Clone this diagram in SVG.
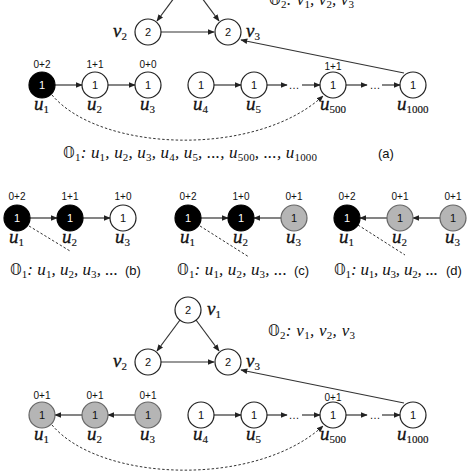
<svg xmlns="http://www.w3.org/2000/svg" width="474" height="474" viewBox="0 0 474 474">
<defs>
<marker id="ah" viewBox="0 0 10 10" refX="9" refY="5" markerWidth="7" markerHeight="7" orient="auto" markerUnits="userSpaceOnUse">
<path d="M0,1 L10,5 L0,9 z" fill="#222"/>
</marker>
</defs>
<style>
.w{fill:#fff;stroke:#222;stroke-width:1.2}
.k{fill:#000;stroke:#000;stroke-width:1.2}
.g{fill:#b5b5b5;stroke:#666;stroke-width:1.2}
.t{font-family:"Liberation Sans",Arial,sans-serif;font-size:11px;text-anchor:middle;fill:#111}
.tw{font-family:"Liberation Sans",Arial,sans-serif;font-size:11px;text-anchor:middle;fill:#fff}
.c{font-family:"Liberation Sans",Arial,sans-serif;font-size:10px;text-anchor:middle;fill:#111}
.m{font-family:"Liberation Serif","DejaVu Serif",serif;font-style:italic;font-size:17px;fill:#111}
.l{font-family:"Liberation Serif","DejaVu Serif",serif;font-style:italic;font-size:19px;fill:#111;stroke:#111;stroke-width:0.3}
.s{font-style:normal;font-size:11px;stroke-width:0.15}
.bb{font-family:"DejaVu Sans",serif;font-style:normal;font-size:15px;fill:#111}
.p{font-family:"Liberation Sans",Arial,sans-serif;font-size:13px;fill:#111}
.e{fill:none;stroke:#333;stroke-width:1.2;marker-end:url(#ah)}
.d{fill:none;stroke:#333;stroke-width:1;stroke-dasharray:2.5,2}
.da{fill:none;stroke:#333;stroke-width:1;stroke-dasharray:2.5,2;marker-end:url(#ah)}
</style>
<rect width="474" height="474" fill="#fff"/>

<g id="connectors">
<line class="e" x1="180" y1="-10" x2="157" y2="21"/>
<line class="e" x1="196" y1="-10" x2="219" y2="21"/>
<line class="e" x1="161" y1="32" x2="214" y2="32"/>
<line class="e" x1="404" y1="73" x2="241" y2="40"/>
<line class="e" x1="55" y1="85" x2="82" y2="85"/>
<line class="e" x1="108" y1="85" x2="135" y2="85"/>
<line class="e" x1="214" y1="85" x2="241" y2="85"/>
<line class="e" x1="267" y1="85" x2="287" y2="85"/>
<line class="e" x1="302" y1="85" x2="320" y2="85"/>
<line class="e" x1="346" y1="85" x2="367" y2="85"/>
<line class="e" x1="382" y1="85" x2="400" y2="85"/>
<path class="da" d="M52,95 C100,152 255,158 323,96"/>
<line class="e" x1="30" y1="218" x2="57" y2="218"/>
<line class="e" x1="83" y1="218" x2="110" y2="218"/>
<line class="d" x1="29" y1="226" x2="70" y2="251"/>
<line class="e" x1="201" y1="218" x2="228" y2="218"/>
<line class="e" x1="281" y1="218" x2="254" y2="218"/>
<line class="d" x1="200" y1="226" x2="249" y2="257"/>
<line class="e" x1="387" y1="218" x2="360" y2="218"/>
<line class="e" x1="440" y1="218" x2="413" y2="218"/>
<line class="d" x1="358" y1="225" x2="405" y2="255"/>
<line class="e" x1="180" y1="320" x2="157" y2="351"/>
<line class="e" x1="196" y1="320" x2="219" y2="351"/>
<line class="e" x1="161" y1="362" x2="214" y2="362"/>
<line class="e" x1="404" y1="403" x2="241" y2="370"/>
<line class="e" x1="82" y1="415" x2="55" y2="415"/>
<line class="e" x1="135" y1="415" x2="108" y2="415"/>
<line class="e" x1="214" y1="415" x2="241" y2="415"/>
<line class="e" x1="267" y1="415" x2="287" y2="415"/>
<line class="e" x1="302" y1="415" x2="320" y2="415"/>
<line class="e" x1="346" y1="415" x2="367" y2="415"/>
<line class="e" x1="382" y1="415" x2="400" y2="415"/>
<path class="da" d="M52,425 C100,482 255,488 323,426"/>
</g>

<g id="dots">
<text class="t" x="294" y="89">…</text>
<text class="t" x="375" y="89">…</text>
<text class="t" x="294" y="419">…</text>
<text class="t" x="375" y="419">…</text>
</g>

<g id="a-text">
<text class="m" x="269" y="5" textLength="85" lengthAdjust="spacing"><tspan class="bb">𝕆</tspan><tspan class="s" dy="3">2</tspan><tspan dy="-3">: v</tspan><tspan class="s" dy="3">1</tspan><tspan dy="-3">, v</tspan><tspan class="s" dy="3">2</tspan><tspan dy="-3">, v</tspan><tspan class="s" dy="3">3</tspan></text>
</g>
<g id="a-v2"><circle class="w" cx="148" cy="32" r="13"/><text class="t" x="148" y="36">2</text><text class="l" x="113" y="37">v<tspan class="s" dy="3">2</tspan></text></g>
<g id="a-v3"><circle class="w" cx="228" cy="32" r="13"/><text class="t" x="228" y="36">2</text><text class="l" x="246" y="37">v<tspan class="s" dy="3">3</tspan></text></g>
<g id="a-u1"><circle class="k" cx="42" cy="85" r="13"/><text class="tw" x="42" y="89">1</text><text class="c" x="42" y="68">0+2</text><text class="l" x="34" y="110">u<tspan class="s" dy="3">1</tspan></text></g>
<g id="a-u2"><circle class="w" cx="95" cy="85" r="13"/><text class="t" x="95" y="89">1</text><text class="c" x="95" y="68">1+1</text><text class="l" x="87" y="110">u<tspan class="s" dy="3">2</tspan></text></g>
<g id="a-u3"><circle class="w" cx="148" cy="85" r="13"/><text class="t" x="148" y="89">1</text><text class="c" x="148" y="68">0+0</text><text class="l" x="140" y="110">u<tspan class="s" dy="3">3</tspan></text></g>
<g id="a-u4"><circle class="w" cx="201" cy="85" r="13"/><text class="t" x="201" y="89">1</text><text class="l" x="193" y="110">u<tspan class="s" dy="3">4</tspan></text></g>
<g id="a-u5"><circle class="w" cx="254" cy="85" r="13"/><text class="t" x="254" y="89">1</text><text class="l" x="246" y="110">u<tspan class="s" dy="3">5</tspan></text></g>
<g id="a-u500"><circle class="w" cx="333" cy="85" r="13"/><text class="t" x="333" y="89">1</text><text class="c" x="333" y="70">1+1</text><text class="l" x="320" y="110">u<tspan class="s" dy="3">500</tspan></text></g>
<g id="a-u1000"><circle class="w" cx="413" cy="85" r="13"/><text class="t" x="413" y="89">1</text><text class="l" x="397" y="110">u<tspan class="s" dy="3">1000</tspan></text></g>
<g id="a-caption">
<text class="m" x="63" y="158" textLength="254" lengthAdjust="spacing"><tspan class="bb">𝕆</tspan><tspan class="s" dy="3">1</tspan><tspan dy="-3">: u</tspan><tspan class="s" dy="3">1</tspan><tspan dy="-3">, u</tspan><tspan class="s" dy="3">2</tspan><tspan dy="-3">, u</tspan><tspan class="s" dy="3">3</tspan><tspan dy="-3">, u</tspan><tspan class="s" dy="3">4</tspan><tspan dy="-3">, u</tspan><tspan class="s" dy="3">5</tspan><tspan dy="-3">, ..., u</tspan><tspan class="s" dy="3">500</tspan><tspan dy="-3">, ..., u</tspan><tspan class="s" dy="3">1000</tspan></text>
<text class="p" x="378" y="158">(a)</text>
</g>

<g id="b-u1"><circle class="k" cx="17" cy="218" r="13"/><text class="tw" x="17" y="222">1</text><text class="c" x="17" y="200">0+2</text><text class="l" x="9" y="243">u<tspan class="s" dy="3">1</tspan></text></g>
<g id="b-u2"><circle class="k" cx="70" cy="218" r="13"/><text class="tw" x="70" y="222">1</text><text class="c" x="70" y="200">1+1</text><text class="l" x="62" y="243">u<tspan class="s" dy="3">2</tspan></text></g>
<g id="b-u3"><circle class="w" cx="123" cy="218" r="13"/><text class="t" x="123" y="222">1</text><text class="c" x="123" y="200">1+0</text><text class="l" x="115" y="243">u<tspan class="s" dy="3">3</tspan></text></g>
<g id="b-caption"><text class="m" x="10" y="275" textLength="108" lengthAdjust="spacing"><tspan class="bb">𝕆</tspan><tspan class="s" dy="3">1</tspan><tspan dy="-3">: u</tspan><tspan class="s" dy="3">1</tspan><tspan dy="-3">, u</tspan><tspan class="s" dy="3">2</tspan><tspan dy="-3">, u</tspan><tspan class="s" dy="3">3</tspan><tspan dy="-3">, ...</tspan></text><text class="p" x="125" y="275">(b)</text></g>

<g id="c-u1"><circle class="k" cx="188" cy="218" r="13"/><text class="tw" x="188" y="222">1</text><text class="c" x="188" y="200">0+2</text><text class="l" x="180" y="243">u<tspan class="s" dy="3">1</tspan></text></g>
<g id="c-u2"><circle class="k" cx="241" cy="218" r="13"/><text class="tw" x="241" y="222">1</text><text class="c" x="241" y="200">1+0</text><text class="l" x="233" y="243">u<tspan class="s" dy="3">2</tspan></text></g>
<g id="c-u3"><circle class="g" cx="294" cy="218" r="13"/><text class="t" x="294" y="222">1</text><text class="c" x="294" y="200">0+1</text><text class="l" x="286" y="243">u<tspan class="s" dy="3">3</tspan></text></g>
<g id="c-caption"><text class="m" x="177" y="275" textLength="110" lengthAdjust="spacing"><tspan class="bb">𝕆</tspan><tspan class="s" dy="3">1</tspan><tspan dy="-3">: u</tspan><tspan class="s" dy="3">1</tspan><tspan dy="-3">, u</tspan><tspan class="s" dy="3">2</tspan><tspan dy="-3">, u</tspan><tspan class="s" dy="3">3</tspan><tspan dy="-3">, ...</tspan></text><text class="p" x="294" y="275">(c)</text></g>

<g id="d-u1"><circle class="k" cx="347" cy="218" r="13"/><text class="tw" x="347" y="222">1</text><text class="c" x="347" y="200">0+2</text><text class="l" x="339" y="243">u<tspan class="s" dy="3">1</tspan></text></g>
<g id="d-u2"><circle class="g" cx="400" cy="218" r="13"/><text class="t" x="400" y="222">1</text><text class="c" x="400" y="200">0+1</text><text class="l" x="392" y="243">u<tspan class="s" dy="3">2</tspan></text></g>
<g id="d-u3"><circle class="g" cx="453" cy="218" r="13"/><text class="t" x="453" y="222">1</text><text class="c" x="453" y="200">0+1</text><text class="l" x="445" y="243">u<tspan class="s" dy="3">3</tspan></text></g>
<g id="d-caption"><text class="m" x="334" y="275" textLength="104" lengthAdjust="spacing"><tspan class="bb">𝕆</tspan><tspan class="s" dy="3">1</tspan><tspan dy="-3">: u</tspan><tspan class="s" dy="3">1</tspan><tspan dy="-3">, u</tspan><tspan class="s" dy="3">3</tspan><tspan dy="-3">, u</tspan><tspan class="s" dy="3">2</tspan><tspan dy="-3">, ...</tspan></text><text class="p" x="446" y="275">(d)</text></g>

<g id="e-text"><text class="m" x="268" y="336" textLength="87" lengthAdjust="spacing"><tspan class="bb">𝕆</tspan><tspan class="s" dy="3">2</tspan><tspan dy="-3">: v</tspan><tspan class="s" dy="3">1</tspan><tspan dy="-3">, v</tspan><tspan class="s" dy="3">2</tspan><tspan dy="-3">, v</tspan><tspan class="s" dy="3">3</tspan></text></g>
<g id="e-v1"><circle class="w" cx="188" cy="310" r="13"/><text class="t" x="188" y="314">2</text><text class="l" x="207" y="315">v<tspan class="s" dy="3">1</tspan></text></g>
<g id="e-v2"><circle class="w" cx="148" cy="362" r="13"/><text class="t" x="148" y="366">2</text><text class="l" x="113" y="367">v<tspan class="s" dy="3">2</tspan></text></g>
<g id="e-v3"><circle class="w" cx="228" cy="362" r="13"/><text class="t" x="228" y="366">2</text><text class="l" x="246" y="367">v<tspan class="s" dy="3">3</tspan></text></g>
<g id="e-u1"><circle class="g" cx="42" cy="415" r="13"/><text class="t" x="42" y="419">1</text><text class="c" x="42" y="399">0+1</text><text class="l" x="34" y="440">u<tspan class="s" dy="3">1</tspan></text></g>
<g id="e-u2"><circle class="g" cx="95" cy="415" r="13"/><text class="t" x="95" y="419">1</text><text class="c" x="95" y="399">0+1</text><text class="l" x="87" y="440">u<tspan class="s" dy="3">2</tspan></text></g>
<g id="e-u3"><circle class="g" cx="148" cy="415" r="13"/><text class="t" x="148" y="419">1</text><text class="c" x="148" y="399">0+1</text><text class="l" x="140" y="440">u<tspan class="s" dy="3">3</tspan></text></g>
<g id="e-u4"><circle class="w" cx="201" cy="415" r="13"/><text class="t" x="201" y="419">1</text><text class="l" x="193" y="440">u<tspan class="s" dy="3">4</tspan></text></g>
<g id="e-u5"><circle class="w" cx="254" cy="415" r="13"/><text class="t" x="254" y="419">1</text><text class="l" x="246" y="440">u<tspan class="s" dy="3">5</tspan></text></g>
<g id="e-u500"><circle class="w" cx="333" cy="415" r="13"/><text class="t" x="333" y="419">1</text><text class="c" x="333" y="401">0+1</text><text class="l" x="320" y="440">u<tspan class="s" dy="3">500</tspan></text></g>
<g id="e-u1000"><circle class="w" cx="413" cy="415" r="13"/><text class="t" x="413" y="419">1</text><text class="l" x="397" y="440">u<tspan class="s" dy="3">1000</tspan></text></g>
</svg>
